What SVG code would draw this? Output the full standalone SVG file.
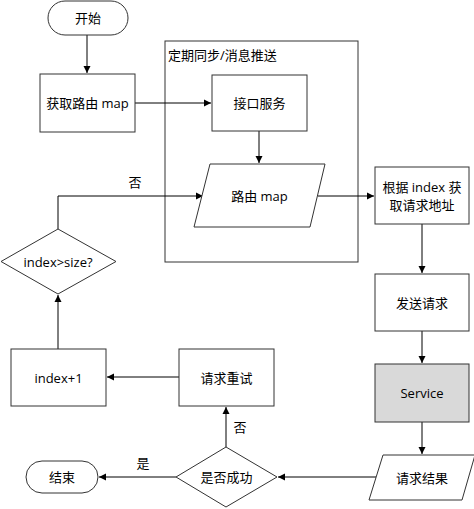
<svg xmlns="http://www.w3.org/2000/svg" width="474" height="509" viewBox="0 0 474 509">
<defs>
<marker id="ah" markerWidth="8" markerHeight="8" refX="7" refY="4" orient="auto" markerUnits="userSpaceOnUse">
<path d="M0,0.5 L7,4 L0,7.5 Z" fill="#000"/>
</marker>
<style>
.s{fill:#fff;stroke:#333;stroke-width:1}
.g{fill:#d9d9d9;stroke:#333;stroke-width:1}
.t{font-family:"Open Sans","Noto Sans CJK SC",sans-serif;font-size:13px;fill:#000;text-anchor:middle;dominant-baseline:central}
.l{font-family:"Open Sans","Noto Sans CJK SC",sans-serif;font-size:13px;fill:#000}
.c{fill:none;stroke:#000;stroke-width:1;marker-end:url(#ah)}
</style>
</defs>
<rect width="474" height="509" fill="#fff"/>
<g id="group-sync">
<rect class="s" x="165" y="41" width="193" height="221" fill="none"/>
<text class="l" x="168" y="60">定期同步/消息推送</text>
</g>
<g id="connectors">
<path class="c" d="M87,35 L87,73"/>
<path class="c" d="M135,103 L211,103"/>
<path class="c" d="M259,131 L259,163"/>
<path class="c" d="M318,196 L374,196"/>
<path class="c" d="M422,224 L422,273"/>
<path class="c" d="M422,331 L422,363"/>
<path class="c" d="M422,422 L422,454"/>
<path class="c" d="M376,477 L278,477"/>
<path class="c" d="M226,447 L226,407"/>
<path class="c" d="M176,477 L99,477"/>
<path class="c" d="M179,377 L107,377"/>
<path class="c" d="M58,349 L58,295"/>
<path class="c" d="M58,229 L58,196 L203,196"/>
<text class="t" x="135" y="182">否</text>
<text class="t" x="240" y="427">否</text>
<text class="t" x="143" y="463">是</text>
</g>
<g id="start">
<rect class="s" x="48" y="1" width="80" height="34" rx="17"/>
<text class="t" x="88" y="18">开始</text>
</g>
<g id="get-map">
<rect class="s" x="40" y="74" width="95" height="58"/>
<text class="t" x="87.5" y="103">获取路由 map</text>
</g>
<g id="api-service">
<rect class="s" x="212" y="75" width="95" height="56"/>
<text class="t" x="259.5" y="103">接口服务</text>
</g>
<g id="route-map">
<polygon class="s" points="210,164 325,164 310,227 194,227"/>
<text class="t" x="259.5" y="196">路由 map</text>
</g>
<g id="get-addr">
<rect class="s" x="375" y="167" width="94" height="57"/>
<text class="t" x="422" y="187">根据 index 获</text>
<text class="t" x="422" y="205">取请求地址</text>
</g>
<g id="check-size">
<polygon class="s" points="58,229 116,261.5 58,294 1,261.5"/>
<text class="t" x="58" y="261.5">index&gt;size?</text>
</g>
<g id="send">
<rect class="s" x="375" y="274" width="94" height="57"/>
<text class="t" x="422" y="302.5">发送请求</text>
</g>
<g id="service">
<rect class="g" x="375" y="364" width="94" height="58"/>
<text class="t" x="422" y="393">Service</text>
</g>
<g id="index-plus">
<rect class="s" x="11" y="349" width="95" height="57"/>
<text class="t" x="58.5" y="377.5">index+1</text>
</g>
<g id="retry">
<rect class="s" x="179" y="349" width="95" height="57"/>
<text class="t" x="226.5" y="377.5">请求重试</text>
</g>
<g id="result">
<polygon class="s" points="383,455 475,455 462,500 369,500"/>
<text class="t" x="422" y="477.5">请求结果</text>
</g>
<g id="success">
<polygon class="s" points="226,447 277,477 226,507 176,477"/>
<text class="t" x="226.5" y="477">是否成功</text>
</g>
<g id="end">
<rect class="s" x="26" y="461" width="72" height="32" rx="16"/>
<text class="t" x="62" y="477">结束</text>
</g>
</svg>
